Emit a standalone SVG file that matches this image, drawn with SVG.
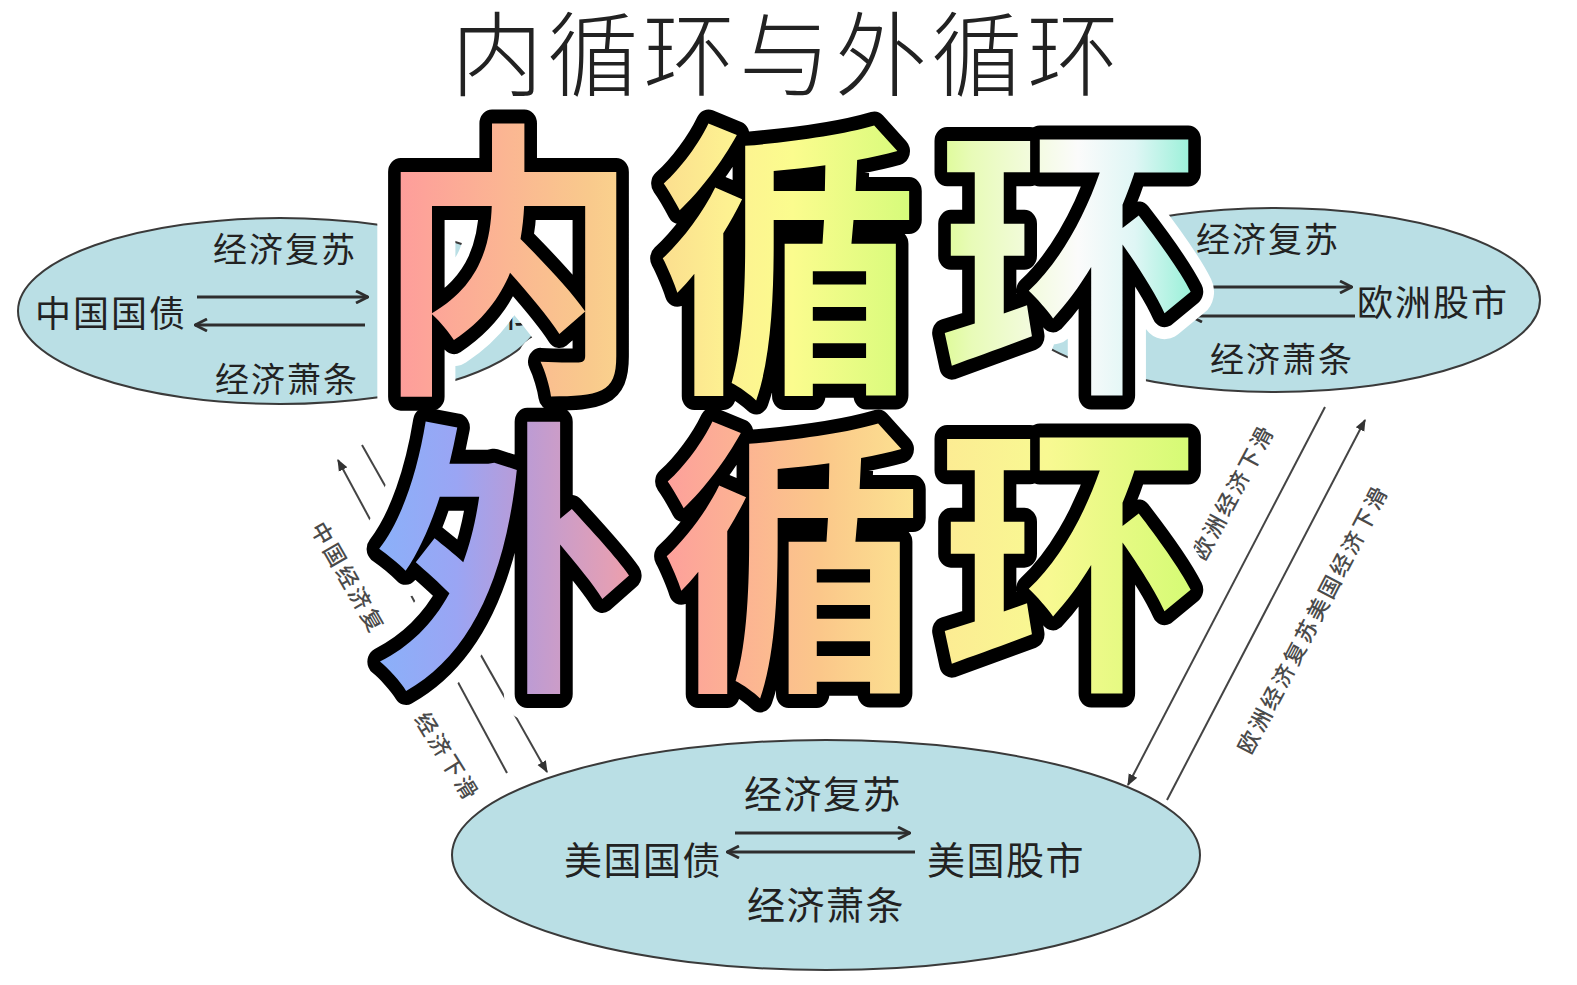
<svg xmlns="http://www.w3.org/2000/svg" width="1577" height="985" viewBox="0 0 1577 985">
<defs>
<style>
.ell{fill:#badfe5;stroke:#3a3a3a;stroke-width:2}
.lbl{font-family:"Noto Sans CJK SC","Noto Sans",sans-serif;font-size:34px;letter-spacing:2px;fill:#222}
.nm{font-family:"Noto Sans CJK SC","Noto Sans",sans-serif;font-size:36px;letter-spacing:2px;fill:#222}
.lblb{font-family:"Noto Sans CJK SC","Noto Sans",sans-serif;font-size:38px;letter-spacing:1.5px;fill:#222}
.rot{font-family:"Noto Sans CJK SC",sans-serif;font-size:22px;font-weight:500;letter-spacing:3px;fill:#4a4a4a;text-anchor:middle}
.flow{stroke:#2e2e2e;stroke-width:3;fill:none}
.diag{stroke:#444;stroke-width:2;fill:none}
.title{font-family:"Noto Sans CJK SC",sans-serif;font-size:92px;font-weight:300;letter-spacing:4px;fill:#222;text-anchor:middle}
.big{font-family:"Noto Sans CJK SC",sans-serif;font-weight:700;font-size:290px;text-anchor:middle}
.halo{fill:#fff;stroke:#fff;stroke-width:52px;stroke-linejoin:round}
.edge{stroke:#000;stroke-width:28px;stroke-linejoin:round;paint-order:stroke fill}
</style>
<marker id="open" viewBox="0 0 14 14" refX="13" refY="7" markerWidth="14" markerHeight="14" markerUnits="userSpaceOnUse" orient="auto">
<path d="M1 1 L13 7 L1 13" fill="none" stroke="#2e2e2e" stroke-width="2.8"/>
</marker>
<marker id="tri" viewBox="0 0 10 10" refX="9" refY="5" markerWidth="12" markerHeight="12" markerUnits="userSpaceOnUse" orient="auto">
<path d="M0 1 L10 5 L0 9 Z" fill="#333"/>
</marker>
<linearGradient id="g1" gradientUnits="userSpaceOnUse" x1="427.8" y1="0" x2="1333.3" y2="0">
<stop offset="0" stop-color="#fe9a9c"/>
<stop offset="0.25" stop-color="#f9c98c"/>
<stop offset="0.42" stop-color="#fdf191"/>
<stop offset="0.5" stop-color="#fbfc8e"/>
<stop offset="0.65" stop-color="#d5fb7a"/>
<stop offset="0.72" stop-color="#e8fbb8"/>
<stop offset="0.85" stop-color="#fbfbfb"/>
<stop offset="0.92" stop-color="#dff6f5"/>
<stop offset="1" stop-color="#8ff0d4"/>
</linearGradient>
<linearGradient id="g2" gradientUnits="userSpaceOnUse" x1="394.4" y1="0" x2="1333.3" y2="0">
<stop offset="0" stop-color="#86b4fb"/>
<stop offset="0.12" stop-color="#9aa5f4"/>
<stop offset="0.2" stop-color="#bb9bd5"/>
<stop offset="0.3" stop-color="#e29fb6"/>
<stop offset="0.36" stop-color="#fd9e9c"/>
<stop offset="0.55" stop-color="#fbc78a"/>
<stop offset="0.7" stop-color="#fcec93"/>
<stop offset="0.82" stop-color="#f8f992"/>
<stop offset="1" stop-color="#d3fb73"/>
</linearGradient>
</defs>
<rect width="1577" height="985" fill="#fff"/>

<g id="title"><text class="title" x="787" y="89">内循环与外循环</text></g>

<g id="node-china">
<ellipse class="ell" cx="280" cy="311" rx="262" ry="93"/>
<text class="lbl" x="213" y="262">经济复苏</text>
<text class="nm" x="35" y="327">中国国债</text>
<text class="nm" x="379" y="327">中国股市</text>
<text class="lbl" x="215" y="392">经济萧条</text>
<line class="flow" x1="197" y1="297" x2="368" y2="297" marker-end="url(#open)"/>
<line class="flow" x1="365" y1="325" x2="195" y2="325" marker-end="url(#open)"/>
</g>

<g id="node-europe">
<ellipse class="ell" cx="1275" cy="300" rx="265" ry="92"/>
<text class="lbl" x="1196" y="252">经济复苏</text>
<text class="nm" x="1357" y="316">欧洲股市</text>
<text class="lbl" x="1210" y="372">经济萧条</text>
<line class="flow" x1="1185" y1="287" x2="1352" y2="287" marker-end="url(#open)"/>
<line class="flow" x1="1355" y1="316" x2="1190" y2="316" marker-end="url(#open)"/>
</g>

<g id="node-usa">
<ellipse class="ell" cx="826" cy="855" rx="374" ry="115"/>
<text class="lblb" x="744" y="808">经济复苏</text>
<text class="lblb" x="564" y="874">美国国债</text>
<text class="lblb" x="927" y="874">美国股市</text>
<text class="lblb" x="747" y="919">经济萧条</text>
<line class="flow" x1="735" y1="833" x2="910" y2="833" marker-end="url(#open)"/>
<line class="flow" x1="915" y1="852" x2="727" y2="852" marker-end="url(#open)"/>
</g>

<g id="connectors">
<line class="diag" x1="507" y1="773" x2="338" y2="460" marker-end="url(#tri)"/>
<line class="diag" x1="362" y1="445" x2="547" y2="772" marker-end="url(#tri)"/>
<line class="diag" x1="1325" y1="407" x2="1128" y2="785" marker-end="url(#tri)"/>
<line class="diag" x1="1167" y1="800" x2="1365" y2="420" marker-end="url(#tri)"/>
<text class="rot" transform="translate(348 578) rotate(60)" y="8">中国经济复</text>
<text class="rot" transform="translate(447 757) rotate(58)" y="8">经济下滑</text>
<text class="rot" transform="translate(1233 492) rotate(-62)" y="8">欧洲经济下滑</text>
<text class="rot" transform="translate(1313 619) rotate(-62.5)" y="8">欧洲经济复苏美国经济下滑</text>
</g>

<g id="overlay" transform="scale(0.9 1)">
<g class="big halo">
<text x="564.4 875.6 1187.8" y="370">内循环</text>
<text x="560 880 1187.8" y="668">外循环</text>
</g>
<g class="big edge" fill="url(#g1)">
<text x="564.4 875.6 1187.8" y="370">内循环</text>
</g>
<g class="big edge" fill="url(#g2)">
<text x="560 880 1187.8" y="668">外循环</text>
</g>
</g>
</svg>
